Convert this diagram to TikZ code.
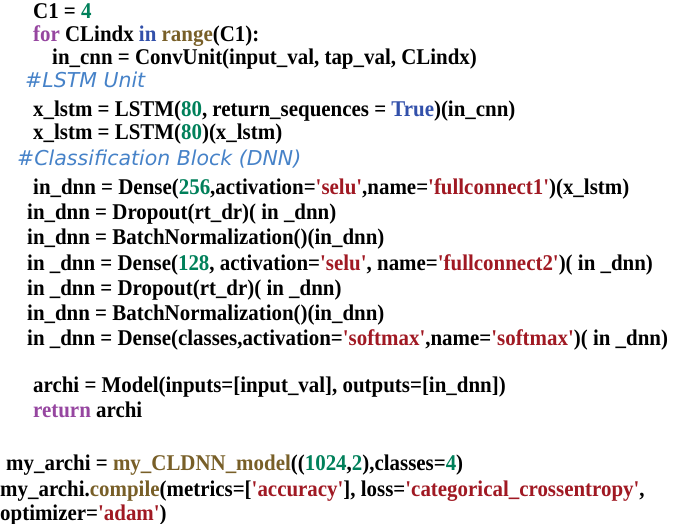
\documentclass[tikz,border=0pt]{standalone}
\usepackage{fontspec}
\setmainfont{Liberation Serif}
\newfontfamily\cmtfont{DejaVu Sans}
\definecolor{cgreen}{RGB}{0,128,90}
\definecolor{cred}{RGB}{160,25,35}
\definecolor{cpurp}{RGB}{150,70,160}
\definecolor{cblue}{RGB}{50,80,170}
\definecolor{cbrown}{RGB}{120,95,40}
\definecolor{ccmt}{RGB}{70,130,200}
\newcommand{\cg}[1]{\textcolor{cgreen}{#1}}
\newcommand{\crd}[1]{\textcolor{cred}{\textquotesingle#1\textquotesingle}}
\newcommand{\cpp}[1]{\textcolor{cpurp}{#1}}
\newcommand{\cbl}[1]{\textcolor{cblue}{#1}}
\newcommand{\cbw}[1]{\textcolor{cbrown}{#1}}
\begin{document}
\begin{tikzpicture}[x=1pt,y=1pt,
  code/.style={anchor=base west,inner sep=0pt,font=\fontsize{22.5}{22.5}\selectfont\bfseries,xscale=0.93},
  cmt/.style={anchor=base west,inner sep=0pt,font=\fontsize{20.5}{20.5}\cmtfont\itshape,text=ccmt}]
\useasboundingbox (0,0) rectangle (681,-524);
\node[code] (l1) at (33,-19) {C1 = \cg{4}};
\node[code] (l2) at (33,-42) {\cpp{for} CLindx \cbl{in} \cbw{range}(C1):};
\node[code] (l3) at (52,-65) {in\_cnn = ConvUnit(input\_val, tap\_val, CLindx)};
\node[cmt] (l4) at (25,-88) {\#LSTM Unit};
\node[code] (l5) at (33,-117) {x\_lstm = LSTM(\cg{80}, return\_sequences = \cbl{True})(in\_cnn)};
\node[code] (l6) at (33,-140) {x\_lstm = LSTM(\cg{80})(x\_lstm)};
\node[cmt] (l7) at (17,-166) {\#Classification Block (DNN)};
\node[code] (l8) at (33,-195) {in\_dnn = Dense(\cg{256},activation=\crd{selu},name=\crd{fullconnect1})(x\_lstm)};
\node[code] (l9) at (27,-220) {in\_dnn = Dropout(rt\_dr)( in \_dnn)};
\node[code] (l10) at (27,-245) {in\_dnn = BatchNormalization()(in\_dnn)};
\node[code] (l11) at (27,-270) {in \_dnn = Dense(\cg{128}, activation=\crd{selu}, name=\crd{fullconnect2})( in \_dnn)};
\node[code] (l12) at (27,-295) {in \_dnn = Dropout(rt\_dr)( in \_dnn)};
\node[code] (l13) at (27,-320) {in\_dnn = BatchNormalization()(in\_dnn)};
\node[code] (l14) at (27,-345) {in \_dnn = Dense(classes,activation=\crd{softmax},name=\crd{softmax})( in \_dnn)};
\node[code] (l15) at (33,-392) {archi = Model(inputs=[input\_val], outputs=[in\_dnn])};
\node[code] (l16) at (33,-417) {\cpp{return} archi};
\node[code] (l17) at (6,-470) {my\_archi = \cbw{my\_CLDNN\_model}((\cg{1024},\cg{2}),classes=\cg{4})};
\node[code] (l18) at (0,-496) {my\_archi.\cbw{compile}(metrics=[\crd{accuracy}], loss=\crd{categorical\_crossentropy},};
\node[code] (l19) at (0,-520) {optimizer=\crd{adam})};
\end{tikzpicture}
\end{document}
